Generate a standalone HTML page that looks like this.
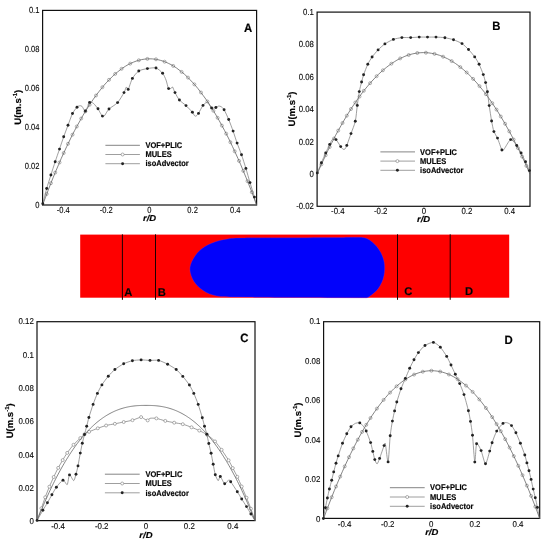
<!DOCTYPE html>
<html lang="en"><head><meta charset="utf-8"><title>Velocity profiles</title>
<style>html,body{margin:0;padding:0;background:#fff}body{width:550px;height:542px;overflow:hidden}svg{display:block}text{font-family:"Liberation Sans",sans-serif;fill:#000;text-rendering:geometricPrecision}</style>
</head><body>
<svg width="550" height="542" viewBox="0 0 550 542">
<rect width="550" height="542" fill="#fff"/>
<rect x="80.2" y="234.6" width="429" height="63.1" fill="#fe0000"/>
<path d="M245 237.9 C242.5 237.92 241.6 237.92 240 237.95 C238.4 237.98 237.48 237.94 235.4 238.1 C233.32 238.26 230.15 238.5 227.5 238.9 C224.85 239.3 222.17 239.78 219.5 240.5 C216.83 241.22 213.93 242.18 211.5 243.2 C209.07 244.22 206.88 245.37 204.9 246.6 C202.92 247.83 201.25 249.05 199.6 250.6 C197.95 252.15 196.33 254.02 195 255.9 C193.67 257.78 192.43 260.02 191.6 261.9 C190.77 263.78 190.22 265.43 190 267.2 C189.78 268.97 189.92 270.62 190.3 272.5 C190.68 274.38 191.42 276.62 192.3 278.5 C193.18 280.38 194.27 282.15 195.6 283.8 C196.93 285.45 198.53 286.97 200.3 288.4 C202.07 289.83 204.1 291.3 206.2 292.4 C208.3 293.5 210.47 294.32 212.9 295 C215.33 295.68 217.93 296.18 220.8 296.5 C223.67 296.82 227.23 296.82 230.1 296.9 C232.97 296.98 235.52 296.97 238 297 C240.48 297.03 242.17 297.07 245 297.1 C247.83 297.13 245.83 297.13 255 297.2 C264.17 297.27 284.17 297.4 300 297.5 C315.83 297.6 340 297.75 350 297.8 C360 297.85 357.58 297.8 360 297.8 C362.42 297.8 363.25 297.83 364.5 297.8 C365.75 297.77 366.33 298.07 367.5 297.6 C368.67 297.13 370.05 296.08 371.5 295 C372.95 293.92 374.77 292.63 376.2 291.1 C377.63 289.57 378.95 287.8 380.1 285.8 C381.25 283.8 382.38 281.32 383.1 279.1 C383.82 276.88 384.15 274.72 384.4 272.5 C384.65 270.28 384.75 268.02 384.6 265.8 C384.45 263.58 384.13 261.4 383.5 259.2 C382.87 257 381.92 254.7 380.8 252.6 C379.68 250.5 378.23 248.38 376.8 246.6 C375.37 244.82 373.85 243.23 372.2 241.9 C370.55 240.57 368.68 239.37 366.9 238.6 C365.12 237.83 363.48 237.53 361.5 237.3 C359.52 237.08 357.2 237.25 355 237.25 C352.8 237.25 351.63 237.24 348.3 237.3 C344.97 237.36 344.72 237.52 335 237.6 C325.28 237.68 303.33 237.76 290 237.8 C276.67 237.84 262.5 237.83 255 237.85 C247.5 237.87 247.5 237.88 245 237.9 Z" fill="#0202fb" stroke="#8a2be2" stroke-opacity="0.6" stroke-width="0.5"/>
<line x1="122.4" y1="234.3" x2="122.4" y2="299.8" stroke="#1a0000" stroke-width="1"/>
<line x1="155.5" y1="234.3" x2="155.5" y2="299.8" stroke="#1a0000" stroke-width="1"/>
<line x1="397.5" y1="234.3" x2="397.5" y2="299.8" stroke="#1a0000" stroke-width="1"/>
<line x1="450.2" y1="234.3" x2="450.2" y2="299.8" stroke="#1a0000" stroke-width="1"/>
<text transform="translate(128.4 296) scale(1.0 1)" font-size="11.21" text-anchor="middle" font-weight="bold" font-style="normal" fill="#1a0000" stroke="#1a1a1a" stroke-width="0.2">A</text>
<text transform="translate(161.8 296) scale(1.0 1)" font-size="11.21" text-anchor="middle" font-weight="bold" font-style="normal" fill="#1a0000" stroke="#1a1a1a" stroke-width="0.2">B</text>
<text transform="translate(408.2 295.3) scale(1.0 1)" font-size="11.21" text-anchor="middle" font-weight="bold" font-style="normal" fill="#1a0000" stroke="#1a1a1a" stroke-width="0.2">C</text>
<text transform="translate(469 295.3) scale(1.0 1)" font-size="11.21" text-anchor="middle" font-weight="bold" font-style="normal" fill="#1a0000" stroke="#1a1a1a" stroke-width="0.2">D</text>
<rect x="42.6" y="10.4" width="214" height="194.6" fill="none" stroke="#111" stroke-width="1.2"/>
<circle cx="46.7" cy="194" r="1.5" fill="#fff" stroke="#7a7a7a" stroke-width="0.6"/>
<circle cx="50.9" cy="183.2" r="1.5" fill="#fff" stroke="#7a7a7a" stroke-width="0.6"/>
<circle cx="55.2" cy="172.6" r="1.5" fill="#fff" stroke="#7a7a7a" stroke-width="0.6"/>
<circle cx="59.5" cy="162.5" r="1.5" fill="#fff" stroke="#7a7a7a" stroke-width="0.6"/>
<circle cx="63.7" cy="153" r="1.5" fill="#fff" stroke="#7a7a7a" stroke-width="0.6"/>
<circle cx="68" cy="143.8" r="1.5" fill="#fff" stroke="#7a7a7a" stroke-width="0.6"/>
<circle cx="72.5" cy="134.7" r="1.5" fill="#fff" stroke="#7a7a7a" stroke-width="0.6"/>
<circle cx="76.8" cy="126.5" r="1.5" fill="#fff" stroke="#7a7a7a" stroke-width="0.6"/>
<circle cx="81.2" cy="118.5" r="1.5" fill="#fff" stroke="#7a7a7a" stroke-width="0.6"/>
<circle cx="85.4" cy="111.4" r="1.5" fill="#fff" stroke="#7a7a7a" stroke-width="0.6"/>
<circle cx="89.6" cy="104.8" r="1.5" fill="#fff" stroke="#7a7a7a" stroke-width="0.6"/>
<circle cx="96" cy="95.5" r="1.5" fill="#fff" stroke="#7a7a7a" stroke-width="0.6"/>
<circle cx="102.4" cy="87.2" r="1.5" fill="#fff" stroke="#7a7a7a" stroke-width="0.6"/>
<circle cx="109" cy="79.8" r="1.5" fill="#fff" stroke="#7a7a7a" stroke-width="0.6"/>
<circle cx="115.2" cy="73.9" r="1.5" fill="#fff" stroke="#7a7a7a" stroke-width="0.6"/>
<circle cx="121.6" cy="68.8" r="1.5" fill="#fff" stroke="#7a7a7a" stroke-width="0.6"/>
<circle cx="130.2" cy="63.6" r="1.5" fill="#fff" stroke="#7a7a7a" stroke-width="0.6"/>
<circle cx="138.8" cy="60.3" r="1.5" fill="#fff" stroke="#7a7a7a" stroke-width="0.6"/>
<circle cx="147.4" cy="58.9" r="1.5" fill="#fff" stroke="#7a7a7a" stroke-width="0.6"/>
<circle cx="156" cy="59.3" r="1.5" fill="#fff" stroke="#7a7a7a" stroke-width="0.6"/>
<circle cx="164.6" cy="61.7" r="1.5" fill="#fff" stroke="#7a7a7a" stroke-width="0.6"/>
<circle cx="173.2" cy="65.9" r="1.5" fill="#fff" stroke="#7a7a7a" stroke-width="0.6"/>
<circle cx="181.6" cy="71.9" r="1.5" fill="#fff" stroke="#7a7a7a" stroke-width="0.6"/>
<circle cx="188" cy="77.6" r="1.5" fill="#fff" stroke="#7a7a7a" stroke-width="0.6"/>
<circle cx="194.4" cy="84.4" r="1.5" fill="#fff" stroke="#7a7a7a" stroke-width="0.6"/>
<circle cx="201" cy="92.5" r="1.5" fill="#fff" stroke="#7a7a7a" stroke-width="0.6"/>
<circle cx="207.4" cy="101.5" r="1.5" fill="#fff" stroke="#7a7a7a" stroke-width="0.6"/>
<circle cx="213.4" cy="110.8" r="1.5" fill="#fff" stroke="#7a7a7a" stroke-width="0.6"/>
<circle cx="217.6" cy="117.8" r="1.5" fill="#fff" stroke="#7a7a7a" stroke-width="0.6"/>
<circle cx="221.9" cy="125.6" r="1.5" fill="#fff" stroke="#7a7a7a" stroke-width="0.6"/>
<circle cx="226.2" cy="133.7" r="1.5" fill="#fff" stroke="#7a7a7a" stroke-width="0.6"/>
<circle cx="230.4" cy="142.2" r="1.5" fill="#fff" stroke="#7a7a7a" stroke-width="0.6"/>
<circle cx="234.7" cy="151.3" r="1.5" fill="#fff" stroke="#7a7a7a" stroke-width="0.6"/>
<circle cx="239" cy="160.9" r="1.5" fill="#fff" stroke="#7a7a7a" stroke-width="0.6"/>
<circle cx="243.3" cy="170.9" r="1.5" fill="#fff" stroke="#7a7a7a" stroke-width="0.6"/>
<circle cx="247.5" cy="181.2" r="1.5" fill="#fff" stroke="#7a7a7a" stroke-width="0.6"/>
<circle cx="251.8" cy="192.2" r="1.5" fill="#fff" stroke="#7a7a7a" stroke-width="0.6"/>
<path d="M42.6 205 L45.3 197.8 L48 190.7 L50.6 183.9 L53.3 177.2 L56 170.7 L58.7 164.4 L61.3 158.3 L64 152.4 L66.7 146.6 L69.4 141 L72 135.6 L74.7 130.4 L77.4 125.4 L80.1 120.6 L82.7 115.9 L85.4 111.4 L88.1 107.1 L90.8 103 L93.4 99.1 L96.1 95.4 L98.8 91.8 L101.5 88.4 L104.1 85.2 L106.8 82.2 L109.5 79.4 L112.2 76.7 L114.8 74.2 L117.5 72 L120.2 69.9 L122.9 67.9 L125.5 66.2 L128.2 64.6 L130.9 63.3 L133.6 62.1 L136.2 61.1 L138.9 60.3 L141.6 59.6 L144.2 59.2 L146.9 58.9 L149.6 58.8 L152.3 58.9 L155 59.2 L157.6 59.6 L160.3 60.3 L163 61.1 L165.7 62.1 L168.3 63.3 L171 64.6 L173.7 66.2 L176.4 67.9 L179 69.9 L181.7 72 L184.4 74.2 L187.1 76.7 L189.7 79.4 L192.4 82.2 L195.1 85.2 L197.8 88.4 L200.4 91.8 L203.1 95.4 L205.8 99.1 L208.5 103 L211.1 107.1 L213.8 111.4 L216.5 115.9 L219.2 120.6 L221.8 125.4 L224.5 130.4 L227.2 135.6 L229.9 141 L232.5 146.6 L235.2 152.4 L237.9 158.3 L240.6 164.4 L243.2 170.7 L245.9 177.2 L248.6 183.9 L251.3 190.7 L253.9 197.8 L256.6 205" fill="none" stroke="#505050" stroke-width="0.7" stroke-linejoin="round"/>
<path d="M42.8 203.8 C43.29 201.89 45.69 192.1 46.7 188.5 C47.71 184.9 49.84 178.35 50.9 175 C51.96 171.65 54.12 164.94 55.2 161.7 C56.28 158.46 58.44 152.21 59.5 149.1 C60.56 145.99 62.64 139.78 63.7 136.8 C64.76 133.83 66.9 128.21 68 125.3 C69.1 122.39 71.38 115.76 72.5 113.5 C73.62 111.24 76.12 108.16 77 107.2 C77.88 106.24 78.88 105.91 79.5 105.8 C80.12 105.69 81.26 105.65 82 106.3 C82.74 106.95 84.45 111.49 85.4 111 C86.35 110.51 88.86 103.49 89.6 102.4 C90.34 101.31 90.79 102.15 91.3 102.3 C91.81 102.45 92.86 102.79 93.7 103.6 C94.54 104.41 97.15 107.59 98 108.8 C98.85 110.01 99.95 112.39 100.5 113.3 C101.05 114.21 102.01 115.69 102.4 116.1 C102.79 116.51 103.27 116.74 103.6 116.6 C103.92 116.46 104.33 115.95 105 115 C105.67 114.05 107.42 110.55 109 109 C110.58 107.45 115.72 104.65 117.6 102.6 C119.47 100.55 122.9 94.55 124 92.6 C125.1 90.65 125.88 87.4 126.4 87 C126.93 86.6 127.45 90.48 128.2 89.4 C128.95 88.33 131.07 80.7 132.4 78.4 C133.73 76.1 136.93 72.22 138.8 71 C140.68 69.78 145.25 68.97 147.4 68.6 C149.55 68.22 154.1 67.42 156 68 C157.9 68.58 161.35 71.7 162.6 73.2 C163.85 74.7 165.25 78.08 166 80 C166.75 81.92 167.91 87.6 168.6 88.6 C169.29 89.6 171 88.2 171.5 88 C172 87.8 172.16 86.42 172.6 87 C173.04 87.58 174.15 90.97 175 92.6 C175.85 94.22 178.03 98.38 179.4 100 C180.78 101.62 184.38 104.07 186 105.6 C187.62 107.12 191.38 110.99 192.4 112.2 C193.43 113.41 193.8 114.8 194.2 115.3 C194.6 115.8 195.25 116.2 195.6 116.2 C195.95 116.2 196.64 115.65 197 115.3 C197.36 114.95 197.75 114.64 198.5 113.4 C199.25 112.16 201.99 106.79 203 105.4 C204.01 104.01 205.97 102.65 206.6 102.3 C207.22 101.95 207.38 101.89 208 102.6 C208.62 103.31 210.61 107.39 211.6 108 C212.59 108.61 215.04 107.74 215.9 107.5 C216.76 107.26 217.86 106.21 218.5 106.1 C219.14 105.99 220.3 106.15 221 106.6 C221.7 107.05 223.14 108.09 224.1 109.7 C225.06 111.31 227.57 116.83 228.7 119.5 C229.82 122.17 232.05 128.15 233.1 131.1 C234.15 134.05 236.05 140.15 237.1 143.1 C238.15 146.05 240.4 151.54 241.5 154.7 C242.6 157.86 244.84 164.91 245.9 168.4 C246.96 171.89 248.94 179.01 250 182.6 C251.06 186.19 253.62 194.32 254.4 197.1 C255.18 199.88 255.97 203.84 256.2 204.8" fill="none" stroke="#727272" stroke-width="0.68" stroke-linejoin="round"/>
<circle cx="42.8" cy="203.8" r="1.45" fill="#222"/>
<circle cx="46.7" cy="188.5" r="1.45" fill="#222"/>
<circle cx="50.9" cy="175" r="1.45" fill="#222"/>
<circle cx="55.2" cy="161.7" r="1.45" fill="#222"/>
<circle cx="59.5" cy="149.1" r="1.45" fill="#222"/>
<circle cx="63.7" cy="136.8" r="1.45" fill="#222"/>
<circle cx="68" cy="125.3" r="1.45" fill="#222"/>
<circle cx="72.5" cy="113.5" r="1.45" fill="#222"/>
<circle cx="77" cy="107.2" r="1.45" fill="#222"/>
<circle cx="85.4" cy="111" r="1.45" fill="#222"/>
<circle cx="89.6" cy="102.4" r="1.45" fill="#222"/>
<circle cx="98" cy="108.8" r="1.45" fill="#222"/>
<circle cx="102.4" cy="116.1" r="1.45" fill="#222"/>
<circle cx="109" cy="109" r="1.45" fill="#222"/>
<circle cx="117.6" cy="102.6" r="1.45" fill="#222"/>
<circle cx="124" cy="92.6" r="1.45" fill="#222"/>
<circle cx="128.2" cy="89.4" r="1.45" fill="#222"/>
<circle cx="132.4" cy="78.4" r="1.45" fill="#222"/>
<circle cx="138.8" cy="71" r="1.45" fill="#222"/>
<circle cx="147.4" cy="68.6" r="1.45" fill="#222"/>
<circle cx="156" cy="68" r="1.45" fill="#222"/>
<circle cx="162.6" cy="73.2" r="1.45" fill="#222"/>
<circle cx="168.6" cy="88.6" r="1.45" fill="#222"/>
<circle cx="175" cy="92.6" r="1.45" fill="#222"/>
<circle cx="179.4" cy="100" r="1.45" fill="#222"/>
<circle cx="186" cy="105.6" r="1.45" fill="#222"/>
<circle cx="192.4" cy="112.2" r="1.45" fill="#222"/>
<circle cx="198.5" cy="113.4" r="1.45" fill="#222"/>
<circle cx="203" cy="105.4" r="1.45" fill="#222"/>
<circle cx="211.6" cy="108" r="1.45" fill="#222"/>
<circle cx="215.9" cy="107.5" r="1.45" fill="#222"/>
<circle cx="224.1" cy="109.7" r="1.45" fill="#222"/>
<circle cx="228.7" cy="119.5" r="1.45" fill="#222"/>
<circle cx="233.1" cy="131.1" r="1.45" fill="#222"/>
<circle cx="237.1" cy="143.1" r="1.45" fill="#222"/>
<circle cx="241.5" cy="154.7" r="1.45" fill="#222"/>
<circle cx="245.9" cy="168.4" r="1.45" fill="#222"/>
<circle cx="250" cy="182.6" r="1.45" fill="#222"/>
<circle cx="254.4" cy="197.1" r="1.45" fill="#222"/>
<text transform="translate(39.4 13.1) scale(0.86 1)" font-size="8.8" text-anchor="end" font-weight="normal" font-style="normal"  stroke="#222" stroke-width="0.12">0.1</text>
<text transform="translate(39.4 52.1) scale(0.86 1)" font-size="8.8" text-anchor="end" font-weight="normal" font-style="normal"  stroke="#222" stroke-width="0.12">0.08</text>
<text transform="translate(39.4 91.1) scale(0.86 1)" font-size="8.8" text-anchor="end" font-weight="normal" font-style="normal"  stroke="#222" stroke-width="0.12">0.06</text>
<text transform="translate(39.4 130.1) scale(0.86 1)" font-size="8.8" text-anchor="end" font-weight="normal" font-style="normal"  stroke="#222" stroke-width="0.12">0.04</text>
<text transform="translate(39.4 169) scale(0.86 1)" font-size="8.8" text-anchor="end" font-weight="normal" font-style="normal"  stroke="#222" stroke-width="0.12">0.02</text>
<text transform="translate(39.4 207.9) scale(0.86 1)" font-size="8.8" text-anchor="end" font-weight="normal" font-style="normal"  stroke="#222" stroke-width="0.12">0</text>
<text transform="translate(63.3 213.2) scale(0.86 1)" font-size="8.8" text-anchor="middle" font-weight="normal" font-style="normal"  stroke="#222" stroke-width="0.12">-0.4</text>
<text transform="translate(106.2 213.2) scale(0.86 1)" font-size="8.8" text-anchor="middle" font-weight="normal" font-style="normal"  stroke="#222" stroke-width="0.12">-0.2</text>
<text transform="translate(149.4 213.2) scale(0.86 1)" font-size="8.8" text-anchor="middle" font-weight="normal" font-style="normal"  stroke="#222" stroke-width="0.12">0</text>
<text transform="translate(192.6 213.2) scale(0.86 1)" font-size="8.8" text-anchor="middle" font-weight="normal" font-style="normal"  stroke="#222" stroke-width="0.12">0.2</text>
<text transform="translate(235.2 213.2) scale(0.86 1)" font-size="8.8" text-anchor="middle" font-weight="normal" font-style="normal"  stroke="#222" stroke-width="0.12">0.4</text>
<text transform="translate(149.6 220.9) scale(1.1 1)" font-size="8.6" text-anchor="middle" font-weight="bold" font-style="italic"  stroke="#1a1a1a" stroke-width="0.2">r/D</text>
<text transform="translate(248 32.4) scale(0.94 1)" font-size="12.09" text-anchor="middle" font-weight="bold" font-style="normal"  stroke="#1a1a1a" stroke-width="0.2">A</text>
<text transform="translate(20.5 107.2) rotate(-90) scale(1 0.98)" font-size="9.5" font-weight="bold" text-anchor="middle" stroke="#1a1a1a" stroke-width="0.2">U(m.s<tspan font-size="6" dy="-3.8">-1</tspan><tspan dy="3.8">)</tspan></text>
<path d="M105.4 145.3 L139.9 145.3" fill="none" stroke="#505050" stroke-width="0.7" stroke-linejoin="round"/>
<text transform="translate(145.4 148) scale(0.91 1)" font-size="8.24" text-anchor="start" font-weight="bold" font-style="normal"  stroke="#1a1a1a" stroke-width="0.2">VOF+PLIC</text>
<path d="M105.4 154.5 L139.9 154.5" fill="none" stroke="#727272" stroke-width="0.68" stroke-linejoin="round"/>
<circle cx="122.6" cy="154.5" r="1.5" fill="#fff" stroke="#7a7a7a" stroke-width="0.6"/>
<text transform="translate(145.4 157.2) scale(0.91 1)" font-size="8.24" text-anchor="start" font-weight="bold" font-style="normal"  stroke="#1a1a1a" stroke-width="0.2">MULES</text>
<path d="M105.4 163.7 L139.9 163.7" fill="none" stroke="#727272" stroke-width="0.68" stroke-linejoin="round"/>
<circle cx="122.6" cy="163.7" r="1.45" fill="#222"/>
<text transform="translate(145.4 166.4) scale(0.91 1)" font-size="8.24" text-anchor="start" font-weight="bold" font-style="normal"  stroke="#1a1a1a" stroke-width="0.2">isoAdvector</text>
<rect x="317.1" y="12.1" width="212.9" height="194.2" fill="none" stroke="#111" stroke-width="1.2"/>
<circle cx="321.4" cy="164.4" r="1.5" fill="#fff" stroke="#7a7a7a" stroke-width="0.6"/>
<circle cx="325.7" cy="155.2" r="1.5" fill="#fff" stroke="#7a7a7a" stroke-width="0.6"/>
<circle cx="329.7" cy="147" r="1.5" fill="#fff" stroke="#7a7a7a" stroke-width="0.6"/>
<circle cx="334" cy="138.5" r="1.5" fill="#fff" stroke="#7a7a7a" stroke-width="0.6"/>
<circle cx="338.2" cy="130.6" r="1.5" fill="#fff" stroke="#7a7a7a" stroke-width="0.6"/>
<circle cx="342.5" cy="123" r="1.5" fill="#fff" stroke="#7a7a7a" stroke-width="0.6"/>
<circle cx="346.8" cy="115.7" r="1.5" fill="#fff" stroke="#7a7a7a" stroke-width="0.6"/>
<circle cx="351" cy="109" r="1.5" fill="#fff" stroke="#7a7a7a" stroke-width="0.6"/>
<circle cx="355.3" cy="102.5" r="1.5" fill="#fff" stroke="#7a7a7a" stroke-width="0.6"/>
<circle cx="359.5" cy="96.6" r="1.5" fill="#fff" stroke="#7a7a7a" stroke-width="0.6"/>
<circle cx="363.8" cy="90.8" r="1.5" fill="#fff" stroke="#7a7a7a" stroke-width="0.6"/>
<circle cx="370.1" cy="83.2" r="1.5" fill="#fff" stroke="#7a7a7a" stroke-width="0.6"/>
<circle cx="376.6" cy="76.2" r="1.5" fill="#fff" stroke="#7a7a7a" stroke-width="0.6"/>
<circle cx="382.9" cy="70.3" r="1.5" fill="#fff" stroke="#7a7a7a" stroke-width="0.6"/>
<circle cx="391.4" cy="63.7" r="1.5" fill="#fff" stroke="#7a7a7a" stroke-width="0.6"/>
<circle cx="400.2" cy="58.4" r="1.5" fill="#fff" stroke="#7a7a7a" stroke-width="0.6"/>
<circle cx="408.7" cy="55" r="1.5" fill="#fff" stroke="#7a7a7a" stroke-width="0.6"/>
<circle cx="417.3" cy="53" r="1.5" fill="#fff" stroke="#7a7a7a" stroke-width="0.6"/>
<circle cx="425.9" cy="52.7" r="1.5" fill="#fff" stroke="#7a7a7a" stroke-width="0.6"/>
<circle cx="434.5" cy="53.9" r="1.5" fill="#fff" stroke="#7a7a7a" stroke-width="0.6"/>
<circle cx="443.1" cy="56.7" r="1.5" fill="#fff" stroke="#7a7a7a" stroke-width="0.6"/>
<circle cx="451.7" cy="61.1" r="1.5" fill="#fff" stroke="#7a7a7a" stroke-width="0.6"/>
<circle cx="460.3" cy="67.1" r="1.5" fill="#fff" stroke="#7a7a7a" stroke-width="0.6"/>
<circle cx="466.7" cy="72.5" r="1.5" fill="#fff" stroke="#7a7a7a" stroke-width="0.6"/>
<circle cx="473.1" cy="78.9" r="1.5" fill="#fff" stroke="#7a7a7a" stroke-width="0.6"/>
<circle cx="479.5" cy="86.1" r="1.5" fill="#fff" stroke="#7a7a7a" stroke-width="0.6"/>
<circle cx="485.9" cy="94.2" r="1.5" fill="#fff" stroke="#7a7a7a" stroke-width="0.6"/>
<circle cx="492.3" cy="103.2" r="1.5" fill="#fff" stroke="#7a7a7a" stroke-width="0.6"/>
<circle cx="496.5" cy="109.6" r="1.5" fill="#fff" stroke="#7a7a7a" stroke-width="0.6"/>
<circle cx="500.8" cy="116.5" r="1.5" fill="#fff" stroke="#7a7a7a" stroke-width="0.6"/>
<circle cx="505.1" cy="123.8" r="1.5" fill="#fff" stroke="#7a7a7a" stroke-width="0.6"/>
<circle cx="509.3" cy="131.4" r="1.5" fill="#fff" stroke="#7a7a7a" stroke-width="0.6"/>
<circle cx="513.6" cy="139.5" r="1.5" fill="#fff" stroke="#7a7a7a" stroke-width="0.6"/>
<circle cx="517.9" cy="148" r="1.5" fill="#fff" stroke="#7a7a7a" stroke-width="0.6"/>
<circle cx="522.1" cy="156.6" r="1.5" fill="#fff" stroke="#7a7a7a" stroke-width="0.6"/>
<circle cx="526.4" cy="165.9" r="1.5" fill="#fff" stroke="#7a7a7a" stroke-width="0.6"/>
<path d="M317.1 174 L319.8 168 L322.4 162.2 L325.1 156.5 L327.7 150.9 L330.4 145.5 L333.1 140.3 L335.7 135.2 L338.4 130.3 L341.1 125.5 L343.7 120.9 L346.4 116.4 L349 112.1 L351.7 107.9 L354.4 103.9 L357 100 L359.7 96.3 L362.3 92.7 L365 89.3 L367.7 86.1 L370.3 82.9 L373 80 L375.6 77.2 L378.3 74.5 L381 72 L383.6 69.7 L386.3 67.5 L389 65.4 L391.6 63.5 L394.3 61.8 L396.9 60.2 L399.6 58.7 L402.3 57.5 L404.9 56.3 L407.6 55.3 L410.2 54.5 L412.9 53.8 L415.6 53.3 L418.2 52.9 L420.9 52.7 L423.6 52.6 L426.2 52.7 L428.9 52.9 L431.5 53.3 L434.2 53.8 L436.9 54.5 L439.5 55.3 L442.2 56.3 L444.8 57.5 L447.5 58.7 L450.2 60.2 L452.8 61.8 L455.5 63.5 L458.1 65.4 L460.8 67.5 L463.5 69.7 L466.1 72 L468.8 74.5 L471.5 77.2 L474.1 80 L476.8 82.9 L479.4 86.1 L482.1 89.3 L484.8 92.7 L487.4 96.3 L490.1 100 L492.7 103.9 L495.4 107.9 L498.1 112.1 L500.7 116.4 L503.4 120.9 L506 125.5 L508.7 130.3 L511.4 135.2 L514 140.3 L516.7 145.5 L519.4 150.9 L522 156.5 L524.7 162.2 L527.3 168 L530 174" fill="none" stroke="#505050" stroke-width="0.7" stroke-linejoin="round"/>
<path d="M317.3 172.9 C317.81 171.62 320.35 165.2 321.4 162.7 C322.45 160.2 324.66 155.19 325.7 152.9 C326.74 150.61 328.85 146.1 329.7 144.4 C330.55 142.7 331.71 139.9 332.5 139.3 C333.29 138.7 334.98 138.69 336 139.6 C337.02 140.51 339.82 145.4 340.7 146.6 C341.57 147.8 342.46 148.9 343 149.2 C343.54 149.5 344.52 149.47 345 149 C345.48 148.53 346.05 147.33 346.8 145.4 C347.55 143.47 349.94 136.61 351 133.6 C352.06 130.59 354.51 124.82 355.3 121.3 C356.09 117.78 356.8 109.11 357.3 105.4 C357.8 101.69 358.76 94.52 359.3 91.6 C359.84 88.67 361.06 84.1 361.6 82 C362.14 79.9 362.83 77.02 363.6 74.8 C364.38 72.58 366.74 66.42 367.8 64.2 C368.86 61.98 370.81 58.79 372.1 57 C373.39 55.21 376.5 51.54 378.1 49.9 C379.7 48.26 382.99 45.21 384.9 43.9 C386.81 42.59 391.27 40.19 393.4 39.4 C395.52 38.61 399.74 37.83 401.9 37.6 C404.06 37.38 408.54 37.66 410.7 37.6 C412.86 37.54 417.1 37.16 419.2 37.1 C421.3 37.04 425.4 37.1 427.5 37.1 C429.6 37.1 433.82 37.02 436 37.1 C438.18 37.18 442.71 37.36 444.9 37.7 C447.09 38.04 451.36 39.06 453.5 39.8 C455.64 40.54 460.12 42.39 462 43.6 C463.88 44.81 466.91 47.84 468.5 49.5 C470.09 51.16 473.38 55.05 474.7 56.9 C476.02 58.75 478.03 62.09 479.1 64.3 C480.18 66.51 482.49 72.31 483.3 74.6 C484.11 76.89 485.09 80.45 485.6 82.6 C486.11 84.75 486.95 88.92 487.4 91.8 C487.85 94.67 488.67 101.95 489.2 105.6 C489.73 109.25 491.01 117.75 491.6 121 C492.19 124.25 493.16 129.46 493.9 131.6 C494.64 133.74 496.5 135.8 497.5 138.1 C498.5 140.4 501.09 148.6 501.9 150 C502.71 151.4 502.9 150.6 504 149.3 C505.1 148 509.11 140.07 510.7 139.6 C512.29 139.12 515.4 143.84 516.7 145.5 C518 147.16 520 150.86 521.1 152.9 C522.2 154.94 524.46 159.59 525.5 161.8 C526.54 164.01 528.77 169.07 529.4 170.6 C530.02 172.12 530.36 173.57 530.5 174" fill="none" stroke="#727272" stroke-width="0.68" stroke-linejoin="round"/>
<circle cx="317.3" cy="172.9" r="1.45" fill="#222"/>
<circle cx="321.4" cy="162.7" r="1.45" fill="#222"/>
<circle cx="325.7" cy="152.9" r="1.45" fill="#222"/>
<circle cx="329.7" cy="144.4" r="1.45" fill="#222"/>
<circle cx="336" cy="139.6" r="1.45" fill="#222"/>
<circle cx="340.7" cy="146.6" r="1.45" fill="#222"/>
<circle cx="346.8" cy="145.4" r="1.45" fill="#222"/>
<circle cx="351" cy="133.6" r="1.45" fill="#222"/>
<circle cx="355.3" cy="121.3" r="1.45" fill="#222"/>
<circle cx="357.3" cy="105.4" r="1.45" fill="#222"/>
<circle cx="359.3" cy="91.6" r="1.45" fill="#222"/>
<circle cx="361.6" cy="82" r="1.45" fill="#222"/>
<circle cx="363.6" cy="74.8" r="1.45" fill="#222"/>
<circle cx="367.8" cy="64.2" r="1.45" fill="#222"/>
<circle cx="372.1" cy="57" r="1.45" fill="#222"/>
<circle cx="378.1" cy="49.9" r="1.45" fill="#222"/>
<circle cx="384.9" cy="43.9" r="1.45" fill="#222"/>
<circle cx="393.4" cy="39.4" r="1.45" fill="#222"/>
<circle cx="401.9" cy="37.6" r="1.45" fill="#222"/>
<circle cx="410.7" cy="37.6" r="1.45" fill="#222"/>
<circle cx="419.2" cy="37.1" r="1.45" fill="#222"/>
<circle cx="427.5" cy="37.1" r="1.45" fill="#222"/>
<circle cx="436" cy="37.1" r="1.45" fill="#222"/>
<circle cx="444.9" cy="37.7" r="1.45" fill="#222"/>
<circle cx="453.5" cy="39.8" r="1.45" fill="#222"/>
<circle cx="462" cy="43.6" r="1.45" fill="#222"/>
<circle cx="468.5" cy="49.5" r="1.45" fill="#222"/>
<circle cx="474.7" cy="56.9" r="1.45" fill="#222"/>
<circle cx="479.1" cy="64.3" r="1.45" fill="#222"/>
<circle cx="483.3" cy="74.6" r="1.45" fill="#222"/>
<circle cx="485.6" cy="82.6" r="1.45" fill="#222"/>
<circle cx="487.4" cy="91.8" r="1.45" fill="#222"/>
<circle cx="489.2" cy="105.6" r="1.45" fill="#222"/>
<circle cx="491.6" cy="121" r="1.45" fill="#222"/>
<circle cx="493.9" cy="131.6" r="1.45" fill="#222"/>
<circle cx="497.5" cy="138.1" r="1.45" fill="#222"/>
<circle cx="501.9" cy="150" r="1.45" fill="#222"/>
<circle cx="510.7" cy="139.6" r="1.45" fill="#222"/>
<circle cx="516.7" cy="145.5" r="1.45" fill="#222"/>
<circle cx="521.1" cy="152.9" r="1.45" fill="#222"/>
<circle cx="525.5" cy="161.8" r="1.45" fill="#222"/>
<circle cx="529.4" cy="170.6" r="1.45" fill="#222"/>
<text transform="translate(313.9 14.9) scale(0.885 1)" font-size="8.8" text-anchor="end" font-weight="normal" font-style="normal"  stroke="#222" stroke-width="0.12">0.1</text>
<text transform="translate(313.9 47.4) scale(0.885 1)" font-size="8.8" text-anchor="end" font-weight="normal" font-style="normal"  stroke="#222" stroke-width="0.12">0.08</text>
<text transform="translate(313.9 79.8) scale(0.885 1)" font-size="8.8" text-anchor="end" font-weight="normal" font-style="normal"  stroke="#222" stroke-width="0.12">0.06</text>
<text transform="translate(313.9 112.2) scale(0.885 1)" font-size="8.8" text-anchor="end" font-weight="normal" font-style="normal"  stroke="#222" stroke-width="0.12">0.04</text>
<text transform="translate(313.9 144.7) scale(0.885 1)" font-size="8.8" text-anchor="end" font-weight="normal" font-style="normal"  stroke="#222" stroke-width="0.12">0.02</text>
<text transform="translate(313.9 177.1) scale(0.885 1)" font-size="8.8" text-anchor="end" font-weight="normal" font-style="normal"  stroke="#222" stroke-width="0.12">0</text>
<text transform="translate(313.9 209.2) scale(0.885 1)" font-size="8.8" text-anchor="end" font-weight="normal" font-style="normal"  stroke="#222" stroke-width="0.12">-0.02</text>
<text transform="translate(337.8 214.1) scale(0.885 1)" font-size="8.8" text-anchor="middle" font-weight="normal" font-style="normal"  stroke="#222" stroke-width="0.12">-0.4</text>
<text transform="translate(380.7 214.1) scale(0.885 1)" font-size="8.8" text-anchor="middle" font-weight="normal" font-style="normal"  stroke="#222" stroke-width="0.12">-0.2</text>
<text transform="translate(423.8 214.1) scale(0.885 1)" font-size="8.8" text-anchor="middle" font-weight="normal" font-style="normal"  stroke="#222" stroke-width="0.12">0</text>
<text transform="translate(466.8 214.1) scale(0.885 1)" font-size="8.8" text-anchor="middle" font-weight="normal" font-style="normal"  stroke="#222" stroke-width="0.12">0.2</text>
<text transform="translate(509.6 214.1) scale(0.885 1)" font-size="8.8" text-anchor="middle" font-weight="normal" font-style="normal"  stroke="#222" stroke-width="0.12">0.4</text>
<text transform="translate(423.6 222.3) scale(1.1 1)" font-size="8.6" text-anchor="middle" font-weight="bold" font-style="italic"  stroke="#1a1a1a" stroke-width="0.2">r/D</text>
<text transform="translate(496.3 30.4) scale(0.94 1)" font-size="12.09" text-anchor="middle" font-weight="bold" font-style="normal"  stroke="#1a1a1a" stroke-width="0.2">B</text>
<text transform="translate(294.8 109) rotate(-90) scale(1 0.98)" font-size="9.5" font-weight="bold" text-anchor="middle" stroke="#1a1a1a" stroke-width="0.2">U(m.s<tspan font-size="6" dy="-3.8">-1</tspan><tspan dy="3.8">)</tspan></text>
<path d="M380.4 151.9 L415 151.9" fill="none" stroke="#505050" stroke-width="0.7" stroke-linejoin="round"/>
<text transform="translate(420.1 154.6) scale(0.91 1)" font-size="8.24" text-anchor="start" font-weight="bold" font-style="normal"  stroke="#1a1a1a" stroke-width="0.2">VOF+PLIC</text>
<path d="M380.4 161.1 L415 161.1" fill="none" stroke="#727272" stroke-width="0.68" stroke-linejoin="round"/>
<circle cx="397.4" cy="161.1" r="1.5" fill="#fff" stroke="#7a7a7a" stroke-width="0.6"/>
<text transform="translate(420.1 163.8) scale(0.91 1)" font-size="8.24" text-anchor="start" font-weight="bold" font-style="normal"  stroke="#1a1a1a" stroke-width="0.2">MULES</text>
<path d="M380.4 170.3 L415 170.3" fill="none" stroke="#727272" stroke-width="0.68" stroke-linejoin="round"/>
<circle cx="397.4" cy="170.3" r="1.45" fill="#222"/>
<text transform="translate(420.1 173) scale(0.91 1)" font-size="8.24" text-anchor="start" font-weight="bold" font-style="normal"  stroke="#1a1a1a" stroke-width="0.2">isoAdvector</text>
<rect x="37" y="321.7" width="218" height="198.9" fill="none" stroke="#111" stroke-width="1.2"/>
<path d="M37.1 520.4 C37.64 518.89 40.39 511.19 41.4 508.3 C42.41 505.41 44.2 500 45.2 497.3 C46.2 494.6 48.34 489.24 49.4 486.7 C50.46 484.16 52.6 479.35 53.7 477 C54.8 474.65 57.08 470.01 58.2 467.9 C59.33 465.79 61.58 461.98 62.7 460.1 C63.83 458.23 65.85 454.81 67.2 452.9 C68.55 450.99 71.86 446.65 73.5 444.8 C75.14 442.95 78.92 439.41 80.3 438.1 C81.67 436.79 83.4 435.09 84.5 434.3 C85.6 433.51 87.44 432.55 89.1 431.8 C90.76 431.05 95.67 429.09 97.8 428.3 C99.92 427.51 103.96 426.06 106.1 425.5 C108.24 424.94 112.7 424.24 114.9 423.8 C117.1 423.36 121.5 422.45 123.7 422 C125.9 421.55 130.32 420.81 132.5 420.2 C134.68 419.59 139.66 417.28 141.1 417.1 C142.54 416.93 143.18 418.39 144 418.8 C144.82 419.21 146.95 420.46 147.7 420.4 C148.45 420.34 148.91 418.55 150 418.3 C151.09 418.05 154.49 418.07 156.4 418.4 C158.31 418.72 163.08 420.36 165.3 420.9 C167.53 421.44 172.01 422.29 174.2 422.7 C176.39 423.11 180.64 423.62 182.8 424.2 C184.96 424.77 189.44 426.5 191.5 427.3 C193.56 428.1 197.34 429.66 199.3 430.6 C201.26 431.54 205.24 433.45 207.2 434.8 C209.16 436.15 213.2 439.52 215 441.4 C216.8 443.27 219.9 447.44 221.6 449.8 C223.3 452.16 227.2 458.01 228.6 460.3 C230 462.59 231.71 466.04 232.8 468.1 C233.89 470.16 236.19 474.5 237.3 476.8 C238.41 479.1 240.55 483.89 241.7 486.5 C242.85 489.11 245.35 494.93 246.5 497.7 C247.65 500.47 249.86 505.86 250.9 508.7 C251.94 511.54 254.31 518.94 254.8 520.4" fill="none" stroke="#727272" stroke-width="0.68" stroke-linejoin="round"/>
<circle cx="41.4" cy="508.3" r="1.5" fill="#fff" stroke="#7a7a7a" stroke-width="0.6"/>
<circle cx="45.2" cy="497.3" r="1.5" fill="#fff" stroke="#7a7a7a" stroke-width="0.6"/>
<circle cx="49.4" cy="486.7" r="1.5" fill="#fff" stroke="#7a7a7a" stroke-width="0.6"/>
<circle cx="53.7" cy="477" r="1.5" fill="#fff" stroke="#7a7a7a" stroke-width="0.6"/>
<circle cx="58.2" cy="467.9" r="1.5" fill="#fff" stroke="#7a7a7a" stroke-width="0.6"/>
<circle cx="62.7" cy="460.1" r="1.5" fill="#fff" stroke="#7a7a7a" stroke-width="0.6"/>
<circle cx="67.2" cy="452.9" r="1.5" fill="#fff" stroke="#7a7a7a" stroke-width="0.6"/>
<circle cx="73.5" cy="444.8" r="1.5" fill="#fff" stroke="#7a7a7a" stroke-width="0.6"/>
<circle cx="80.3" cy="438.1" r="1.5" fill="#fff" stroke="#7a7a7a" stroke-width="0.6"/>
<circle cx="84.5" cy="434.3" r="1.5" fill="#fff" stroke="#7a7a7a" stroke-width="0.6"/>
<circle cx="89.1" cy="431.8" r="1.5" fill="#fff" stroke="#7a7a7a" stroke-width="0.6"/>
<circle cx="97.8" cy="428.3" r="1.5" fill="#fff" stroke="#7a7a7a" stroke-width="0.6"/>
<circle cx="106.1" cy="425.5" r="1.5" fill="#fff" stroke="#7a7a7a" stroke-width="0.6"/>
<circle cx="114.9" cy="423.8" r="1.5" fill="#fff" stroke="#7a7a7a" stroke-width="0.6"/>
<circle cx="123.7" cy="422" r="1.5" fill="#fff" stroke="#7a7a7a" stroke-width="0.6"/>
<circle cx="132.5" cy="420.2" r="1.5" fill="#fff" stroke="#7a7a7a" stroke-width="0.6"/>
<circle cx="141.1" cy="417.1" r="1.5" fill="#fff" stroke="#7a7a7a" stroke-width="0.6"/>
<circle cx="147.7" cy="420.4" r="1.5" fill="#fff" stroke="#7a7a7a" stroke-width="0.6"/>
<circle cx="156.4" cy="418.4" r="1.5" fill="#fff" stroke="#7a7a7a" stroke-width="0.6"/>
<circle cx="165.3" cy="420.9" r="1.5" fill="#fff" stroke="#7a7a7a" stroke-width="0.6"/>
<circle cx="174.2" cy="422.7" r="1.5" fill="#fff" stroke="#7a7a7a" stroke-width="0.6"/>
<circle cx="182.8" cy="424.2" r="1.5" fill="#fff" stroke="#7a7a7a" stroke-width="0.6"/>
<circle cx="191.5" cy="427.3" r="1.5" fill="#fff" stroke="#7a7a7a" stroke-width="0.6"/>
<circle cx="199.3" cy="430.6" r="1.5" fill="#fff" stroke="#7a7a7a" stroke-width="0.6"/>
<circle cx="207.2" cy="434.8" r="1.5" fill="#fff" stroke="#7a7a7a" stroke-width="0.6"/>
<circle cx="215" cy="441.4" r="1.5" fill="#fff" stroke="#7a7a7a" stroke-width="0.6"/>
<circle cx="221.6" cy="449.8" r="1.5" fill="#fff" stroke="#7a7a7a" stroke-width="0.6"/>
<circle cx="228.6" cy="460.3" r="1.5" fill="#fff" stroke="#7a7a7a" stroke-width="0.6"/>
<circle cx="232.8" cy="468.1" r="1.5" fill="#fff" stroke="#7a7a7a" stroke-width="0.6"/>
<circle cx="237.3" cy="476.8" r="1.5" fill="#fff" stroke="#7a7a7a" stroke-width="0.6"/>
<circle cx="241.7" cy="486.5" r="1.5" fill="#fff" stroke="#7a7a7a" stroke-width="0.6"/>
<circle cx="246.5" cy="497.7" r="1.5" fill="#fff" stroke="#7a7a7a" stroke-width="0.6"/>
<circle cx="250.9" cy="508.7" r="1.5" fill="#fff" stroke="#7a7a7a" stroke-width="0.6"/>
<path d="M37 520.6 C37.27 519.95 38.63 516.7 39.18 515.39 C39.73 514.07 40.81 511.38 41.36 510.07 C41.91 508.77 42.99 506.19 43.54 504.91 C44.09 503.64 45.17 501.14 45.72 499.91 C46.27 498.67 47.35 496.24 47.9 495.05 C48.45 493.85 49.53 491.5 50.08 490.34 C50.62 489.18 51.71 486.9 52.26 485.78 C52.8 484.65 53.89 482.45 54.44 481.36 C54.98 480.27 56.08 478.14 56.62 477.09 C57.17 476.04 58.25 473.98 58.8 472.96 C59.34 471.95 60.44 469.96 60.98 468.98 C61.53 468 62.61 466.08 63.16 465.13 C63.7 464.19 64.8 462.34 65.34 461.43 C65.89 460.52 66.97 458.73 67.52 457.86 C68.06 456.98 69.16 455.27 69.7 454.43 C70.25 453.59 71.33 451.94 71.88 451.13 C72.42 450.32 73.52 448.74 74.06 447.97 C74.61 447.19 75.7 445.68 76.24 444.93 C76.79 444.19 77.88 442.74 78.42 442.03 C78.97 441.32 80.05 439.94 80.6 439.26 C81.14 438.58 82.23 437.26 82.78 436.61 C83.33 435.96 84.42 434.7 84.96 434.09 C85.51 433.47 86.59 432.27 87.14 431.69 C87.69 431.1 88.77 429.96 89.32 429.41 C89.86 428.85 90.95 427.78 91.5 427.25 C92.05 426.73 93.14 425.71 93.68 425.21 C94.23 424.71 95.31 423.75 95.86 423.28 C96.41 422.82 97.49 421.91 98.04 421.47 C98.58 421.03 99.67 420.18 100.22 419.77 C100.77 419.36 101.86 418.57 102.4 418.18 C102.95 417.8 104.03 417.06 104.58 416.7 C105.12 416.34 106.22 415.66 106.76 415.32 C107.31 414.99 108.39 414.36 108.94 414.05 C109.48 413.74 110.58 413.16 111.12 412.88 C111.67 412.6 112.75 412.06 113.3 411.8 C113.84 411.55 114.94 411.06 115.48 410.82 C116.03 410.59 117.11 410.15 117.66 409.94 C118.2 409.73 119.3 409.33 119.84 409.14 C120.39 408.96 121.47 408.6 122.02 408.44 C122.56 408.27 123.66 407.96 124.2 407.82 C124.75 407.67 125.83 407.4 126.38 407.27 C126.92 407.15 128.01 406.92 128.56 406.81 C129.11 406.71 130.19 406.51 130.74 406.42 C131.29 406.34 132.38 406.18 132.92 406.11 C133.47 406.04 134.56 405.91 135.1 405.86 C135.64 405.8 136.74 405.71 137.28 405.67 C137.82 405.63 138.91 405.56 139.46 405.53 C140 405.51 141.09 405.47 141.64 405.45 C142.19 405.43 143.27 405.42 143.82 405.41 C144.37 405.4 145.45 405.4 146 405.4 C146.55 405.4 147.63 405.4 148.18 405.41 C148.73 405.42 149.81 405.44 150.36 405.45 C150.91 405.47 152 405.51 152.54 405.54 C153.09 405.57 154.18 405.63 154.72 405.67 C155.26 405.71 156.36 405.81 156.9 405.87 C157.44 405.92 158.53 406.05 159.08 406.12 C159.62 406.19 160.71 406.35 161.26 406.44 C161.81 406.53 162.89 406.72 163.44 406.83 C163.99 406.94 165.07 407.17 165.62 407.3 C166.17 407.42 167.26 407.7 167.8 407.84 C168.34 407.99 169.44 408.3 169.98 408.47 C170.52 408.64 171.62 408.99 172.16 409.18 C172.7 409.37 173.8 409.77 174.34 409.98 C174.88 410.19 175.98 410.63 176.52 410.87 C177.06 411.1 178.16 411.59 178.7 411.85 C179.24 412.11 180.33 412.65 180.88 412.93 C181.43 413.21 182.51 413.8 183.06 414.11 C183.61 414.41 184.7 415.05 185.24 415.38 C185.78 415.72 186.88 416.41 187.42 416.77 C187.96 417.13 189.06 417.87 189.6 418.25 C190.14 418.64 191.24 419.44 191.78 419.85 C192.32 420.26 193.42 421.11 193.96 421.55 C194.5 421.99 195.59 422.9 196.14 423.37 C196.68 423.84 197.77 424.8 198.32 425.3 C198.87 425.8 199.95 426.82 200.5 427.35 C201.05 427.87 202.13 428.95 202.68 429.51 C203.23 430.07 204.32 431.21 204.86 431.79 C205.41 432.38 206.5 433.58 207.04 434.2 C207.58 434.82 208.68 436.08 209.22 436.73 C209.76 437.38 210.86 438.7 211.4 439.38 C211.94 440.06 213.04 441.45 213.58 442.16 C214.12 442.87 215.22 444.33 215.76 445.07 C216.3 445.81 217.39 447.33 217.94 448.11 C218.49 448.88 219.57 450.47 220.12 451.28 C220.67 452.09 221.76 453.74 222.3 454.58 C222.84 455.42 223.94 457.14 224.48 458.02 C225.02 458.9 226.12 460.68 226.66 461.59 C227.2 462.5 228.3 464.36 228.84 465.31 C229.38 466.25 230.48 468.18 231.02 469.16 C231.56 470.14 232.66 472.13 233.2 473.15 C233.74 474.16 234.83 476.23 235.38 477.28 C235.93 478.33 237.01 480.47 237.56 481.56 C238.11 482.65 239.2 484.86 239.74 485.98 C240.28 487.11 241.38 489.39 241.92 490.55 C242.46 491.71 243.56 494.07 244.1 495.27 C244.64 496.46 245.74 498.9 246.28 500.13 C246.82 501.37 247.92 503.87 248.46 505.15 C249 506.42 250.09 509 250.64 510.31 C251.18 511.63 252.27 514.35 252.82 515.63 C253.37 516.92 254.73 519.98 255 520.6" fill="none" stroke="#505050" stroke-width="0.7" stroke-linejoin="round"/>
<path d="M37.1 520.4 C37.83 519.14 41.61 512.5 42.9 510.3 C44.19 508.1 46.27 504.74 47.4 502.8 C48.52 500.86 50.77 496.75 51.9 494.8 C53.02 492.85 55.01 489.02 56.4 487.2 C57.79 485.38 61.65 480.52 63 480.2 C64.35 479.88 66.39 485.26 67.2 484.6 C68.01 483.94 68.69 475.4 69.5 474.9 C70.31 474.4 72.89 480.69 73.7 480.6 C74.51 480.51 75.46 476.04 76 474.2 C76.54 472.36 77.46 468.54 78 465.9 C78.54 463.26 79.76 455.93 80.3 453.1 C80.84 450.28 81.77 445.62 82.3 443.3 C82.83 440.98 83.95 436.62 84.5 434.5 C85.05 432.38 86.15 428.43 86.7 426.3 C87.25 424.18 88.1 420.24 88.9 417.5 C89.7 414.76 92.04 407.41 93.1 404.4 C94.16 401.39 96.3 395.84 97.4 393.4 C98.5 390.96 100.54 387.05 101.9 384.9 C103.26 382.75 106.67 378.12 108.3 376.2 C109.92 374.27 112.98 371.05 114.9 369.5 C116.83 367.95 121.51 364.9 123.7 363.8 C125.89 362.7 130.22 361.19 132.4 360.7 C134.58 360.21 138.9 359.94 141.1 359.9 C143.3 359.86 147.81 360.34 150 360.4 C152.19 360.46 156.4 359.92 158.6 360.4 C160.8 360.88 165.4 363.06 167.6 364.2 C169.8 365.34 174.3 367.98 176.2 369.5 C178.1 371.02 181.15 374.46 182.8 376.4 C184.45 378.34 188.03 382.88 189.4 385 C190.78 387.12 192.7 390.97 193.8 393.4 C194.9 395.82 197.14 401.36 198.2 404.4 C199.26 407.44 201.51 414.97 202.3 417.7 C203.09 420.43 203.94 424.14 204.5 426.2 C205.06 428.26 206.26 432.04 206.8 434.2 C207.34 436.36 208.26 441.12 208.8 443.5 C209.34 445.88 210.55 450.61 211.1 453.2 C211.65 455.79 212.67 461.51 213.2 464.2 C213.72 466.89 214.68 472.64 215.3 474.7 C215.93 476.76 217.57 480.47 218.2 480.7 C218.82 480.93 219.49 476.11 220.3 476.5 C221.11 476.89 223.65 483.38 224.7 483.8 C225.75 484.23 227.95 480.16 228.7 479.9 C229.45 479.64 229.62 480.22 230.7 481.7 C231.77 483.18 235.93 489.54 237.3 491.7 C238.68 493.86 240.55 497.14 241.7 499 C242.85 500.86 245.35 504.73 246.5 506.6 C247.65 508.48 249.86 512.27 250.9 514 C251.94 515.73 254.31 519.6 254.8 520.4" fill="none" stroke="#727272" stroke-width="0.68" stroke-linejoin="round"/>
<circle cx="37.1" cy="520.4" r="1.45" fill="#222"/>
<circle cx="42.9" cy="510.3" r="1.45" fill="#222"/>
<circle cx="47.4" cy="502.8" r="1.45" fill="#222"/>
<circle cx="51.9" cy="494.8" r="1.45" fill="#222"/>
<circle cx="56.4" cy="487.2" r="1.45" fill="#222"/>
<circle cx="63" cy="480.2" r="1.45" fill="#222"/>
<circle cx="69.5" cy="474.9" r="1.45" fill="#222"/>
<circle cx="76" cy="474.2" r="1.45" fill="#222"/>
<circle cx="78" cy="465.9" r="1.45" fill="#222"/>
<circle cx="80.3" cy="453.1" r="1.45" fill="#222"/>
<circle cx="82.3" cy="443.3" r="1.45" fill="#222"/>
<circle cx="84.5" cy="434.5" r="1.45" fill="#222"/>
<circle cx="86.7" cy="426.3" r="1.45" fill="#222"/>
<circle cx="88.9" cy="417.5" r="1.45" fill="#222"/>
<circle cx="93.1" cy="404.4" r="1.45" fill="#222"/>
<circle cx="97.4" cy="393.4" r="1.45" fill="#222"/>
<circle cx="101.9" cy="384.9" r="1.45" fill="#222"/>
<circle cx="108.3" cy="376.2" r="1.45" fill="#222"/>
<circle cx="114.9" cy="369.5" r="1.45" fill="#222"/>
<circle cx="123.7" cy="363.8" r="1.45" fill="#222"/>
<circle cx="132.4" cy="360.7" r="1.45" fill="#222"/>
<circle cx="141.1" cy="359.9" r="1.45" fill="#222"/>
<circle cx="150" cy="360.4" r="1.45" fill="#222"/>
<circle cx="158.6" cy="360.4" r="1.45" fill="#222"/>
<circle cx="167.6" cy="364.2" r="1.45" fill="#222"/>
<circle cx="176.2" cy="369.5" r="1.45" fill="#222"/>
<circle cx="182.8" cy="376.4" r="1.45" fill="#222"/>
<circle cx="189.4" cy="385" r="1.45" fill="#222"/>
<circle cx="193.8" cy="393.4" r="1.45" fill="#222"/>
<circle cx="198.2" cy="404.4" r="1.45" fill="#222"/>
<circle cx="202.3" cy="417.7" r="1.45" fill="#222"/>
<circle cx="204.5" cy="426.2" r="1.45" fill="#222"/>
<circle cx="206.8" cy="434.2" r="1.45" fill="#222"/>
<circle cx="208.8" cy="443.5" r="1.45" fill="#222"/>
<circle cx="211.1" cy="453.2" r="1.45" fill="#222"/>
<circle cx="213.2" cy="464.2" r="1.45" fill="#222"/>
<circle cx="215.3" cy="474.7" r="1.45" fill="#222"/>
<circle cx="220.3" cy="476.5" r="1.45" fill="#222"/>
<circle cx="224.7" cy="483.8" r="1.45" fill="#222"/>
<circle cx="230.7" cy="481.7" r="1.45" fill="#222"/>
<circle cx="237.3" cy="491.7" r="1.45" fill="#222"/>
<circle cx="241.7" cy="499" r="1.45" fill="#222"/>
<circle cx="246.5" cy="506.6" r="1.45" fill="#222"/>
<circle cx="250.9" cy="514" r="1.45" fill="#222"/>
<text transform="translate(33.8 324.4) scale(0.93 1)" font-size="8.5" text-anchor="end" font-weight="normal" font-style="normal"  stroke="#222" stroke-width="0.12">0.12</text>
<text transform="translate(33.8 357.7) scale(0.93 1)" font-size="8.5" text-anchor="end" font-weight="normal" font-style="normal"  stroke="#222" stroke-width="0.12">0.1</text>
<text transform="translate(33.8 391) scale(0.93 1)" font-size="8.5" text-anchor="end" font-weight="normal" font-style="normal"  stroke="#222" stroke-width="0.12">0.08</text>
<text transform="translate(33.8 424.3) scale(0.93 1)" font-size="8.5" text-anchor="end" font-weight="normal" font-style="normal"  stroke="#222" stroke-width="0.12">0.06</text>
<text transform="translate(33.8 457.5) scale(0.93 1)" font-size="8.5" text-anchor="end" font-weight="normal" font-style="normal"  stroke="#222" stroke-width="0.12">0.04</text>
<text transform="translate(33.8 490.7) scale(0.93 1)" font-size="8.5" text-anchor="end" font-weight="normal" font-style="normal"  stroke="#222" stroke-width="0.12">0.02</text>
<text transform="translate(33.8 523.5) scale(0.93 1)" font-size="8.5" text-anchor="end" font-weight="normal" font-style="normal"  stroke="#222" stroke-width="0.12">0</text>
<text transform="translate(58 528.9) scale(0.93 1)" font-size="8.5" text-anchor="middle" font-weight="normal" font-style="normal"  stroke="#222" stroke-width="0.12">-0.4</text>
<text transform="translate(101.7 528.9) scale(0.93 1)" font-size="8.5" text-anchor="middle" font-weight="normal" font-style="normal"  stroke="#222" stroke-width="0.12">-0.2</text>
<text transform="translate(145.9 528.9) scale(0.93 1)" font-size="8.5" text-anchor="middle" font-weight="normal" font-style="normal"  stroke="#222" stroke-width="0.12">0</text>
<text transform="translate(189.3 528.9) scale(0.93 1)" font-size="8.5" text-anchor="middle" font-weight="normal" font-style="normal"  stroke="#222" stroke-width="0.12">0.2</text>
<text transform="translate(232.8 528.9) scale(0.93 1)" font-size="8.5" text-anchor="middle" font-weight="normal" font-style="normal"  stroke="#222" stroke-width="0.12">0.4</text>
<text transform="translate(145.9 537.6) scale(1.1 1)" font-size="8.6" text-anchor="middle" font-weight="bold" font-style="italic"  stroke="#1a1a1a" stroke-width="0.2">r/D</text>
<text transform="translate(244.3 341.9) scale(0.94 1)" font-size="12.09" text-anchor="middle" font-weight="bold" font-style="normal"  stroke="#1a1a1a" stroke-width="0.2">C</text>
<text transform="translate(13.1 420.8) rotate(-90) scale(1 0.98)" font-size="9.5" font-weight="bold" text-anchor="middle" stroke="#1a1a1a" stroke-width="0.2">U(m.s<tspan font-size="6" dy="-3.8">-1</tspan><tspan dy="3.8">)</tspan></text>
<path d="M104.9 474.2 L139.7 474.2" fill="none" stroke="#505050" stroke-width="0.7" stroke-linejoin="round"/>
<text transform="translate(145.5 476.9) scale(0.91 1)" font-size="8.24" text-anchor="start" font-weight="bold" font-style="normal"  stroke="#1a1a1a" stroke-width="0.2">VOF+PLIC</text>
<path d="M104.9 483.5 L139.7 483.5" fill="none" stroke="#727272" stroke-width="0.68" stroke-linejoin="round"/>
<circle cx="122.2" cy="483.5" r="1.5" fill="#fff" stroke="#7a7a7a" stroke-width="0.6"/>
<text transform="translate(145.5 486.2) scale(0.91 1)" font-size="8.24" text-anchor="start" font-weight="bold" font-style="normal"  stroke="#1a1a1a" stroke-width="0.2">MULES</text>
<path d="M104.9 492.8 L139.7 492.8" fill="none" stroke="#727272" stroke-width="0.68" stroke-linejoin="round"/>
<circle cx="122.2" cy="492.8" r="1.45" fill="#222"/>
<text transform="translate(145.5 495.5) scale(0.91 1)" font-size="8.24" text-anchor="start" font-weight="bold" font-style="normal"  stroke="#1a1a1a" stroke-width="0.2">isoAdvector</text>
<rect x="323.6" y="321.7" width="216.1" height="196.7" fill="none" stroke="#111" stroke-width="1.2"/>
<circle cx="327.4" cy="508.3" r="1.5" fill="#fff" stroke="#7a7a7a" stroke-width="0.6"/>
<circle cx="331.7" cy="497.2" r="1.5" fill="#fff" stroke="#7a7a7a" stroke-width="0.6"/>
<circle cx="336" cy="486.5" r="1.5" fill="#fff" stroke="#7a7a7a" stroke-width="0.6"/>
<circle cx="340.2" cy="476.6" r="1.5" fill="#fff" stroke="#7a7a7a" stroke-width="0.6"/>
<circle cx="344.7" cy="466.4" r="1.5" fill="#fff" stroke="#7a7a7a" stroke-width="0.6"/>
<circle cx="349" cy="457.2" r="1.5" fill="#fff" stroke="#7a7a7a" stroke-width="0.6"/>
<circle cx="353.3" cy="448.4" r="1.5" fill="#fff" stroke="#7a7a7a" stroke-width="0.6"/>
<circle cx="357.8" cy="439.7" r="1.5" fill="#fff" stroke="#7a7a7a" stroke-width="0.6"/>
<circle cx="362.1" cy="431.9" r="1.5" fill="#fff" stroke="#7a7a7a" stroke-width="0.6"/>
<circle cx="366.3" cy="424.8" r="1.5" fill="#fff" stroke="#7a7a7a" stroke-width="0.6"/>
<circle cx="370.5" cy="418" r="1.5" fill="#fff" stroke="#7a7a7a" stroke-width="0.6"/>
<circle cx="376.9" cy="408.6" r="1.5" fill="#fff" stroke="#7a7a7a" stroke-width="0.6"/>
<circle cx="383.6" cy="399.9" r="1.5" fill="#fff" stroke="#7a7a7a" stroke-width="0.6"/>
<circle cx="390.1" cy="392.6" r="1.5" fill="#fff" stroke="#7a7a7a" stroke-width="0.6"/>
<circle cx="396.6" cy="386.3" r="1.5" fill="#fff" stroke="#7a7a7a" stroke-width="0.6"/>
<circle cx="405.4" cy="379.4" r="1.5" fill="#fff" stroke="#7a7a7a" stroke-width="0.6"/>
<circle cx="414.1" cy="374.6" r="1.5" fill="#fff" stroke="#7a7a7a" stroke-width="0.6"/>
<circle cx="422.8" cy="371.7" r="1.5" fill="#fff" stroke="#7a7a7a" stroke-width="0.6"/>
<circle cx="431.4" cy="370.7" r="1.5" fill="#fff" stroke="#7a7a7a" stroke-width="0.6"/>
<circle cx="440.2" cy="371.6" r="1.5" fill="#fff" stroke="#7a7a7a" stroke-width="0.6"/>
<circle cx="448.9" cy="374.5" r="1.5" fill="#fff" stroke="#7a7a7a" stroke-width="0.6"/>
<circle cx="457.6" cy="379.2" r="1.5" fill="#fff" stroke="#7a7a7a" stroke-width="0.6"/>
<circle cx="466" cy="385.6" r="1.5" fill="#fff" stroke="#7a7a7a" stroke-width="0.6"/>
<circle cx="472.6" cy="391.9" r="1.5" fill="#fff" stroke="#7a7a7a" stroke-width="0.6"/>
<circle cx="479.3" cy="399.4" r="1.5" fill="#fff" stroke="#7a7a7a" stroke-width="0.6"/>
<circle cx="485.9" cy="408" r="1.5" fill="#fff" stroke="#7a7a7a" stroke-width="0.6"/>
<circle cx="492.2" cy="417.1" r="1.5" fill="#fff" stroke="#7a7a7a" stroke-width="0.6"/>
<circle cx="496.6" cy="424.1" r="1.5" fill="#fff" stroke="#7a7a7a" stroke-width="0.6"/>
<circle cx="500.8" cy="431.2" r="1.5" fill="#fff" stroke="#7a7a7a" stroke-width="0.6"/>
<circle cx="505.2" cy="439.2" r="1.5" fill="#fff" stroke="#7a7a7a" stroke-width="0.6"/>
<circle cx="509.6" cy="447.6" r="1.5" fill="#fff" stroke="#7a7a7a" stroke-width="0.6"/>
<circle cx="513.8" cy="456.1" r="1.5" fill="#fff" stroke="#7a7a7a" stroke-width="0.6"/>
<circle cx="518.3" cy="465.8" r="1.5" fill="#fff" stroke="#7a7a7a" stroke-width="0.6"/>
<circle cx="522.5" cy="475.2" r="1.5" fill="#fff" stroke="#7a7a7a" stroke-width="0.6"/>
<circle cx="526.9" cy="485.6" r="1.5" fill="#fff" stroke="#7a7a7a" stroke-width="0.6"/>
<circle cx="531.1" cy="495.9" r="1.5" fill="#fff" stroke="#7a7a7a" stroke-width="0.6"/>
<circle cx="535.3" cy="506.7" r="1.5" fill="#fff" stroke="#7a7a7a" stroke-width="0.6"/>
<path d="M323.6 518.5 L326.3 511.2 L329 504.1 L331.7 497.2 L334.4 490.4 L337.1 483.9 L339.8 477.5 L342.5 471.3 L345.2 465.3 L347.9 459.5 L350.6 453.8 L353.3 448.4 L356 443.1 L358.7 438 L361.4 433.1 L364.1 428.4 L366.8 423.9 L369.5 419.6 L372.2 415.4 L374.9 411.4 L377.6 407.7 L380.3 404 L383 400.6 L385.7 397.4 L388.4 394.3 L391.1 391.5 L393.8 388.8 L396.5 386.3 L399.2 384 L401.9 381.9 L404.6 379.9 L407.3 378.2 L410 376.6 L412.7 375.2 L415.4 374 L418.1 373 L420.8 372.2 L423.5 371.5 L426.2 371.1 L428.9 370.8 L431.7 370.7 L434.4 370.8 L437.1 371.1 L439.8 371.5 L442.5 372.2 L445.2 373 L447.9 374 L450.6 375.2 L453.3 376.6 L456 378.2 L458.7 379.9 L461.4 381.9 L464.1 384 L466.8 386.3 L469.5 388.8 L472.2 391.5 L474.9 394.3 L477.6 397.4 L480.3 400.6 L483 404 L485.7 407.7 L488.4 411.4 L491.1 415.4 L493.8 419.6 L496.5 423.9 L499.2 428.4 L501.9 433.1 L504.6 438 L507.3 443.1 L510 448.4 L512.7 453.8 L515.4 459.5 L518.1 465.3 L520.8 471.3 L523.5 477.5 L526.2 483.9 L528.9 490.4 L531.6 497.2 L534.3 504.1 L537 511.2 L539.7 518.5" fill="none" stroke="#505050" stroke-width="0.7" stroke-linejoin="round"/>
<path d="M323.4 518.5 C323.65 517.16 324.9 510.36 325.4 507.8 C325.9 505.24 326.9 500.35 327.4 498 C327.9 495.65 328.86 491.23 329.4 489 C329.94 486.77 331.16 482.34 331.7 480.2 C332.24 478.06 333.16 474.02 333.7 471.9 C334.24 469.77 335.44 465.2 336 463.2 C336.56 461.2 337.39 458.39 338.2 455.9 C339.01 453.41 341.43 446.06 342.5 443.3 C343.57 440.54 345.74 435.86 346.8 433.8 C347.86 431.74 349.91 428.11 351 426.8 C352.09 425.49 354.4 423.79 355.5 423.3 C356.6 422.81 358.82 422.54 359.8 422.9 C360.78 423.26 362.5 425.19 363.3 426.2 C364.1 427.21 365.29 428.95 366.2 431 C367.11 433.05 369.78 440.05 370.6 442.6 C371.43 445.15 372.28 449.27 372.8 451.4 C373.32 453.52 374.26 458.04 374.8 459.6 C375.34 461.16 376.5 464.05 377.1 463.9 C377.7 463.75 378.73 460.69 379.6 458.4 C380.48 456.11 383.38 447.4 384.1 445.6 C384.83 443.8 384.9 441.96 385.4 444 C385.9 446.04 387.5 462.92 388.1 461.9 C388.7 460.88 389.66 440.9 390.2 435.8 C390.74 430.7 391.85 424.21 392.4 421.1 C392.95 417.99 394.05 413.29 394.6 410.9 C395.15 408.51 396 404.76 396.8 402 C397.6 399.24 399.93 391.75 401 388.8 C402.07 385.85 404.31 380.96 405.4 378.4 C406.49 375.84 408.62 370.64 409.7 368.3 C410.77 365.96 412.91 361.66 414 359.7 C415.09 357.74 417.02 354.38 418.4 352.6 C419.77 350.83 423.12 346.77 425 345.5 C426.88 344.23 431.49 342.19 433.4 342.4 C435.31 342.61 438.64 345.45 440.3 347.2 C441.96 348.95 445.36 354.17 446.7 356.4 C448.04 358.62 449.93 362.77 451 365 C452.07 367.23 454.21 371.88 455.3 374.2 C456.39 376.52 458.61 381.05 459.7 383.6 C460.79 386.15 462.91 391.21 464 394.6 C465.09 397.99 467.59 407.35 468.4 410.7 C469.21 414.05 469.99 418.32 470.5 421.4 C471.01 424.47 471.96 430.21 472.5 435.3 C473.04 440.39 474.29 461.04 474.8 462.1 C475.31 463.16 475.81 445.24 476.6 443.8 C477.39 442.36 479.99 448.11 481.1 450.6 C482.21 453.09 484.43 463.64 485.5 463.7 C486.57 463.76 488.88 453.73 489.7 451.1 C490.52 448.48 491.23 445.2 492.1 442.7 C492.98 440.2 495.34 433.51 496.7 431.1 C498.06 428.69 501.68 424.44 503 423.4 C504.32 422.36 506.24 422.52 507.3 422.8 C508.36 423.08 510.43 424.36 511.5 425.6 C512.58 426.84 514.79 430.5 515.9 432.7 C517.01 434.9 519.29 440.41 520.4 443.2 C521.51 445.99 523.99 452.54 524.8 455 C525.61 457.46 526.38 460.94 526.9 462.9 C527.42 464.86 528.48 468.64 529 470.7 C529.52 472.76 530.58 477.1 531.1 479.4 C531.62 481.7 532.68 486.81 533.2 489.1 C533.73 491.39 534.77 495.41 535.3 497.7 C535.82 499.99 536.88 504.8 537.4 507.4 C537.92 510 539.24 517.11 539.5 518.5" fill="none" stroke="#727272" stroke-width="0.68" stroke-linejoin="round"/>
<circle cx="323.4" cy="518.5" r="1.45" fill="#222"/>
<circle cx="325.4" cy="507.8" r="1.45" fill="#222"/>
<circle cx="327.4" cy="498" r="1.45" fill="#222"/>
<circle cx="329.4" cy="489" r="1.45" fill="#222"/>
<circle cx="331.7" cy="480.2" r="1.45" fill="#222"/>
<circle cx="333.7" cy="471.9" r="1.45" fill="#222"/>
<circle cx="336" cy="463.2" r="1.45" fill="#222"/>
<circle cx="338.2" cy="455.9" r="1.45" fill="#222"/>
<circle cx="342.5" cy="443.3" r="1.45" fill="#222"/>
<circle cx="346.8" cy="433.8" r="1.45" fill="#222"/>
<circle cx="351" cy="426.8" r="1.45" fill="#222"/>
<circle cx="359.8" cy="422.9" r="1.45" fill="#222"/>
<circle cx="366.2" cy="431" r="1.45" fill="#222"/>
<circle cx="370.6" cy="442.6" r="1.45" fill="#222"/>
<circle cx="372.8" cy="451.4" r="1.45" fill="#222"/>
<circle cx="374.8" cy="459.6" r="1.45" fill="#222"/>
<circle cx="379.6" cy="458.4" r="1.45" fill="#222"/>
<circle cx="384.1" cy="445.6" r="1.45" fill="#222"/>
<circle cx="388.1" cy="461.9" r="1.45" fill="#222"/>
<circle cx="390.2" cy="435.8" r="1.45" fill="#222"/>
<circle cx="392.4" cy="421.1" r="1.45" fill="#222"/>
<circle cx="394.6" cy="410.9" r="1.45" fill="#222"/>
<circle cx="396.8" cy="402" r="1.45" fill="#222"/>
<circle cx="401" cy="388.8" r="1.45" fill="#222"/>
<circle cx="405.4" cy="378.4" r="1.45" fill="#222"/>
<circle cx="409.7" cy="368.3" r="1.45" fill="#222"/>
<circle cx="414" cy="359.7" r="1.45" fill="#222"/>
<circle cx="418.4" cy="352.6" r="1.45" fill="#222"/>
<circle cx="425" cy="345.5" r="1.45" fill="#222"/>
<circle cx="433.4" cy="342.4" r="1.45" fill="#222"/>
<circle cx="440.3" cy="347.2" r="1.45" fill="#222"/>
<circle cx="446.7" cy="356.4" r="1.45" fill="#222"/>
<circle cx="451" cy="365" r="1.45" fill="#222"/>
<circle cx="455.3" cy="374.2" r="1.45" fill="#222"/>
<circle cx="459.7" cy="383.6" r="1.45" fill="#222"/>
<circle cx="464" cy="394.6" r="1.45" fill="#222"/>
<circle cx="468.4" cy="410.7" r="1.45" fill="#222"/>
<circle cx="470.5" cy="421.4" r="1.45" fill="#222"/>
<circle cx="472.5" cy="435.3" r="1.45" fill="#222"/>
<circle cx="474.8" cy="462.1" r="1.45" fill="#222"/>
<circle cx="476.6" cy="443.8" r="1.45" fill="#222"/>
<circle cx="481.1" cy="450.6" r="1.45" fill="#222"/>
<circle cx="485.5" cy="463.7" r="1.45" fill="#222"/>
<circle cx="489.7" cy="451.1" r="1.45" fill="#222"/>
<circle cx="492.1" cy="442.7" r="1.45" fill="#222"/>
<circle cx="496.7" cy="431.1" r="1.45" fill="#222"/>
<circle cx="503" cy="423.4" r="1.45" fill="#222"/>
<circle cx="511.5" cy="425.6" r="1.45" fill="#222"/>
<circle cx="515.9" cy="432.7" r="1.45" fill="#222"/>
<circle cx="520.4" cy="443.2" r="1.45" fill="#222"/>
<circle cx="524.8" cy="455" r="1.45" fill="#222"/>
<circle cx="526.9" cy="462.9" r="1.45" fill="#222"/>
<circle cx="529" cy="470.7" r="1.45" fill="#222"/>
<circle cx="531.1" cy="479.4" r="1.45" fill="#222"/>
<circle cx="533.2" cy="489.1" r="1.45" fill="#222"/>
<circle cx="535.3" cy="497.7" r="1.45" fill="#222"/>
<circle cx="537.4" cy="507.4" r="1.45" fill="#222"/>
<text transform="translate(320.4 324.4) scale(0.93 1)" font-size="8.5" text-anchor="end" font-weight="normal" font-style="normal"  stroke="#222" stroke-width="0.12">0.1</text>
<text transform="translate(320.4 363.9) scale(0.93 1)" font-size="8.5" text-anchor="end" font-weight="normal" font-style="normal"  stroke="#222" stroke-width="0.12">0.08</text>
<text transform="translate(320.4 403.3) scale(0.93 1)" font-size="8.5" text-anchor="end" font-weight="normal" font-style="normal"  stroke="#222" stroke-width="0.12">0.06</text>
<text transform="translate(320.4 442.7) scale(0.93 1)" font-size="8.5" text-anchor="end" font-weight="normal" font-style="normal"  stroke="#222" stroke-width="0.12">0.04</text>
<text transform="translate(320.4 482.2) scale(0.93 1)" font-size="8.5" text-anchor="end" font-weight="normal" font-style="normal"  stroke="#222" stroke-width="0.12">0.02</text>
<text transform="translate(320.4 521.6) scale(0.93 1)" font-size="8.5" text-anchor="end" font-weight="normal" font-style="normal"  stroke="#222" stroke-width="0.12">0</text>
<text transform="translate(344.6 527.1) scale(0.93 1)" font-size="8.5" text-anchor="middle" font-weight="normal" font-style="normal"  stroke="#222" stroke-width="0.12">-0.4</text>
<text transform="translate(387.7 527.1) scale(0.93 1)" font-size="8.5" text-anchor="middle" font-weight="normal" font-style="normal"  stroke="#222" stroke-width="0.12">-0.2</text>
<text transform="translate(431.3 527.1) scale(0.93 1)" font-size="8.5" text-anchor="middle" font-weight="normal" font-style="normal"  stroke="#222" stroke-width="0.12">0</text>
<text transform="translate(475 527.1) scale(0.93 1)" font-size="8.5" text-anchor="middle" font-weight="normal" font-style="normal"  stroke="#222" stroke-width="0.12">0.2</text>
<text transform="translate(518 527.1) scale(0.93 1)" font-size="8.5" text-anchor="middle" font-weight="normal" font-style="normal"  stroke="#222" stroke-width="0.12">0.4</text>
<text transform="translate(431.7 534.8) scale(1.1 1)" font-size="8.6" text-anchor="middle" font-weight="bold" font-style="italic"  stroke="#1a1a1a" stroke-width="0.2">r/D</text>
<text transform="translate(508.5 343.6) scale(0.94 1)" font-size="12.09" text-anchor="middle" font-weight="bold" font-style="normal"  stroke="#1a1a1a" stroke-width="0.2">D</text>
<text transform="translate(300.6 420) rotate(-90) scale(1 0.98)" font-size="9.5" font-weight="bold" text-anchor="middle" stroke="#1a1a1a" stroke-width="0.2">U(m.s<tspan font-size="6" dy="-3.8">-1</tspan><tspan dy="3.8">)</tspan></text>
<path d="M389.9 487.7 L424.7 487.7" fill="none" stroke="#505050" stroke-width="0.7" stroke-linejoin="round"/>
<text transform="translate(430.1 490.4) scale(0.91 1)" font-size="8.24" text-anchor="start" font-weight="bold" font-style="normal"  stroke="#1a1a1a" stroke-width="0.2">VOF+PLIC</text>
<path d="M389.9 497 L424.7 497" fill="none" stroke="#727272" stroke-width="0.68" stroke-linejoin="round"/>
<circle cx="407.2" cy="497" r="1.5" fill="#fff" stroke="#7a7a7a" stroke-width="0.6"/>
<text transform="translate(430.1 499.7) scale(0.91 1)" font-size="8.24" text-anchor="start" font-weight="bold" font-style="normal"  stroke="#1a1a1a" stroke-width="0.2">MULES</text>
<path d="M389.9 506.3 L424.7 506.3" fill="none" stroke="#727272" stroke-width="0.68" stroke-linejoin="round"/>
<circle cx="407.2" cy="506.3" r="1.45" fill="#222"/>
<text transform="translate(430.1 509) scale(0.91 1)" font-size="8.24" text-anchor="start" font-weight="bold" font-style="normal"  stroke="#1a1a1a" stroke-width="0.2">isoAdvector</text>
</svg>
</body></html>
